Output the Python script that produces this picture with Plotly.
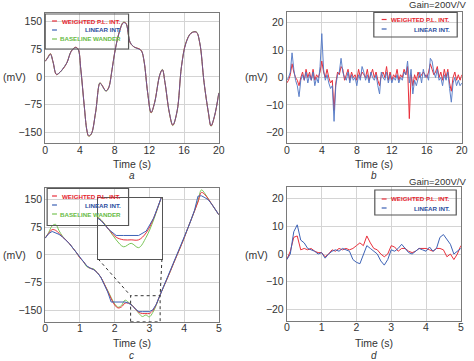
import plotly.graph_objects as go

# ---------------- data ----------------
# Panel a: full 20 s record (three nearly identical curves)
t_a = [0, 0.3, 0.6, 0.9, 1.3, 1.7, 2.0, 2.5, 3.0, 3.5, 3.8, 4.1, 4.5, 4.8, 5.0, 5.3, 5.8, 6.3, 6.5, 7.0,
       7.3, 7.7, 8.0, 8.5, 9.0, 9.3, 9.8, 10.3, 10.8, 11.1, 11.4, 11.8, 12.2, 12.6, 13.2, 13.5, 13.8, 14.3,
       14.7, 15.2, 15.7, 16.2, 16.8, 17.4, 17.8, 18.3, 18.8, 19.1, 19.5, 20.0]
wander_a = [42, 53, 63, 40, 6, 12, 20, 38, 70, 80, 74, 20, -80, -145, -161, -156, -98, -16, -21, -39,
            -30, 20, 65, 119, 148, 145, 92, 80, 76, 70, 40, -43, -98, -70, 6, 20, -16, -98,
            -132, -93, 29, 92, 119, 122, 92, -16, -98, -134, -107, -43]
weighted_a = [42, 52, 62, 41, 6, 13, 20, 38, 69, 80, 75, 21, -79, -144, -160, -155, -97, -17, -21, -38,
              -30, 19, 65, 118, 147, 145, 92, 80, 76, 70, 41, -42, -97, -70, 5, 19, -16, -97,
              -131, -92, 28, 91, 118, 121, 92, -15, -97, -133, -107, -44]
linear_a = [42, 51, 61, 41, 7, 12, 21, 38, 69, 79, 74, 21, -79, -144, -159, -155, -97, -17, -22, -38,
            -31, 19, 64, 118, 146, 144, 93, 80, 75, 70, 41, -42, -96, -71, 5, 19, -15, -96,
            -130, -92, 28, 90, 118, 121, 93, -15, -96, -132, -106, -44]

# Panel b: error signals over 20 s (step 0.2 s)
t_b = [round(i * 0.2, 1) for i in range(101)]
linear_b = [-1, 0, 2, 9, 3, -1, -3, -7, -1, 1, -1, 2, -2, 1, -1, 2, -3, 0, -2, 4,
            16, 3, -1, 1, -2, -4, -3, -16, -3, 1, 2, 7, 2, 0, -1, 2, -2, 1, -1, 0,
            -3, 1, -1, 4, 2, -1, 1, -2, 2, 0, -1, 1, -3, -6, 2, 0, -1, 2, -2, 1,
            -2, 0, -1, 1, -2, 0, -1, 2, 1, 6, -2, 3, -6, -1, -3, 0, 2, -2, 3, 0,
            1, -1, 7, 6, 2, 0, 3, -1, 0, -3, 1, -1, 2, -4, -9, -2, 0, -3, -1, -3, -2]
weighted_b = [-2, -1, 1, 5, 2, 0, -1, -3, 0, 2, -1, 3, 0, 2, -1, 3, -1, 1, 0, 2,
              6, 2, 0, 3, 0, -2, -1, -12, -2, 2, 1, 4, 3, -1, 1, 3, -1, 2, 0, 1,
              -1, 3, 0, 2, 1, 0, 3, -1, 1, 3, 0, 2, -1, -3, 1, 2, 0, 4, -1, 2,
              -1, 1, 0, 3, -1, 1, 0, 3, 1, 4, -15, 1, -3, 1, -1, 2, 0, 1, 2, 1,
              0, 2, 5, 3, 1, 2, 4, 0, 2, -1, 3, 0, 3, -2, -5, 0, 2, -1, 1, -1, 1]

# Panel c: 5 s detail (step 0.1 s)
t_c = [round(i * 0.1, 1) for i in range(51)]
wander_c = [45, 60, 78, 82, 65, 50, 40, 30, 18, 6, -8, -18, -32, -36, -38, -48, -60, -78, -96, -115,
            -132, -141, -136, -122, -128, -135, -146, -158, -166, -162, -167, -155, -135, -110, -88, -67, -45, -22, 0, 22,
            45, 70, 94, 118, 145, 175, 165, 150, 136, 122, 108]
weighted_c = [45, 58, 68, 66, 58, 48, 40, 30, 18, 6, -8, -18, -30, -36, -40, -48, -60, -78, -98, -118,
              -135, -143, -140, -130, -130, -136, -146, -155, -158, -158, -158, -150, -133, -110, -88, -67, -45, -22, 0, 22,
              45, 70, 94, 118, 142, 168, 162, 150, 136, 122, 108]
linear_c = [45, 57, 63, 60, 55, 48, 40, 30, 18, 6, -8, -18, -30, -36, -40, -48, -60, -80, -100, -127,
            -127, -127, -127, -127, -130, -136, -146, -153, -153, -153, -153, -148, -133, -110, -88, -67, -45, -22, 0, 22,
            45, 70, 94, 120, 158, 159, 154, 148, 136, 122, 108]

# Panel d: error signals over 5 s (step 0.1 s)
t_d = [round(i * 0.1, 1) for i in range(51)]
linear_d = [-2, 0, 8, 10.5, 5, 4, 2, 1.5, 1, 0, 0.5, -1.5, 0, 1, 1.5, 1, 2, 1.5, 1, -2,
            -3, -3.5, 0, 3, 2, 1, 0, -2.5, -4, -2, 1.5, 1, 2, 3.5, 2, 0.5, 0, 1, 2, 1.5,
            1, 2.5, 1, 2, 6, 7, 5, 3.5, 0, 1, 2]
weighted_d = [-2, 1, 6, 6.5, 1.5, 2, 1.5, 2, 1, 0.5, 0.5, -1, 0, 1.5, 1, 2, 1.5, 2, 1.5, 2,
              3, 4, 3, 6.5, 4, 2, 1.5, 0, -1, 0, 3, 2.5, 1, 2, 2, 1, 0.5, 1, 2, 2,
              2, 1.5, 1, 2, 2, 1.5, -1, 0, -2, 0, 3]

ticks_20 = [0, 4, 8, 12, 16, 20]
ticks_5 = [0, 1, 2, 3, 4, 5]
ticks_mv_big = [-150, -75, 0, 75, 150]
ticks_mv_small = [-20, -10, 0, 10, 20]
legend_names = ["WEIGHTED P.L. INT.", "LINEAR INT.", "BASELINE WANDER"]
gain_text = "Gain=200V/V"
zoom_window = (2.46, 3.31, -180, -110)

# ---------------- style ----------------
W, H = 474, 361
RED, BLUE, GREEN = "#e8303c", "#3d62b5", "#78c456"
RED_T, BLUE_T, GREEN_T = "#e41e2b", "#2c4e9e", "#68bb45"
FONT = "Liberation Sans, Arial, sans-serif"
TXT = "#333333"
FRAME = "#7a7a7a"
GRID = "#d4d4d4"
TICK_SIZE = 10.5


def px(x):
    return x / W


def py(y):
    return 1 - y / H


fig = go.Figure()

# subplot definitions: (xdomain px, ydomain px, xrange, yrange, xticks, yticks)
panels = {
    1: ((43, 220), (13.3, 143.3), [0, 20], [-180, 172], ticks_20, ticks_mv_big),
    2: ((289.3, 467.7), (11.7, 143.3), [0, 20], [-24, 24], ticks_20, ticks_mv_small),
    3: ((43, 220), (188, 321.7), [0, 5], [-180, 180], ticks_5, ticks_mv_big),
    4: ((289.3, 466.7), (187.3, 320.7), [0, 5], [-24, 24], ticks_5, ticks_mv_small),
}

layout_axes = {}
for i, (xd, yd, xr, yr, xt, yt) in panels.items():
    xs = "" if i == 1 else str(i)
    layout_axes["xaxis" + xs] = dict(
        domain=[px(xd[0]), px(xd[1])], range=xr, anchor="y" + xs,
        tickvals=xt, ticks="", showline=True, mirror=True, linecolor=FRAME, linewidth=1,
        showgrid=True, gridcolor=GRID, gridwidth=1, zeroline=False, ticklabeloverflow="allow",
        ticklabelstandoff=-3, tickfont=dict(family=FONT, size=TICK_SIZE, color=TXT))
    layout_axes["yaxis" + xs] = dict(
        domain=[py(yd[1]), py(yd[0])], range=yr, anchor="x" + xs,
        tickvals=yt, ticks="", showline=True, mirror=True, linecolor=FRAME, linewidth=1,
        showgrid=True, gridcolor=GRID, gridwidth=1, zeroline=False, ticklabeloverflow="allow",
        tickfont=dict(family=FONT, size=TICK_SIZE, color=TXT))

# inset axes (magnified window of panel c)
inset_px = (97, 162, 198, 259)
layout_axes["xaxis5"] = dict(domain=[px(inset_px[0]), px(inset_px[1])], range=[zoom_window[0], zoom_window[1]],
                             anchor="y5", showline=True, mirror=True, linecolor="#555", linewidth=1,
                             showgrid=False, zeroline=False, showticklabels=False, ticks="")
layout_axes["yaxis5"] = dict(domain=[py(inset_px[3]), py(inset_px[2])], range=[zoom_window[2], zoom_window[3]],
                             anchor="x5", showline=True, mirror=True, linecolor="#555", linewidth=1,
                             showgrid=False, zeroline=False, showticklabels=False, ticks="")


def line(x, y, color, ax, width=1.0, shape="linear", opacity=1.0):
    xs = "" if ax == 1 else str(ax)
    fig.add_trace(go.Scatter(x=x, y=y, mode="lines", line=dict(color=color, width=width, shape=shape),
                             opacity=opacity, xaxis="x" + xs, yaxis="y" + xs, showlegend=False,
                             hoverinfo="skip"))


# panel a
line(t_a, wander_a, GREEN, 1, shape="spline")
line(t_a, weighted_a, RED, 1, shape="spline")
line(t_a, linear_a, BLUE, 1, shape="spline", opacity=0.7)
# panel b
line(t_b, weighted_b, RED, 2)
line(t_b, linear_b, "#4d74c4", 2, opacity=0.9)
# panel c
line(t_c, wander_c, GREEN, 3, shape="spline")
line(t_c, weighted_c, RED, 3, shape="spline")
line(t_c, linear_c, BLUE, 3)
# inset
line(t_c, wander_c, GREEN, 5, shape="spline")
line(t_c, weighted_c, RED, 5, shape="spline")
line(t_c, linear_c, BLUE, 5)
# panel d
line(t_d, weighted_d, RED, 4)
line(t_d, linear_d, BLUE, 4)

shapes = []
annotations = []

# dotted zoom window on panel c
shapes.append(dict(type="rect", xref="x3", yref="y3", x0=zoom_window[0], x1=zoom_window[1],
                   y0=zoom_window[2], y1=zoom_window[3], line=dict(color="#333", width=1, dash="dot"),
                   layer="above"))


# connecting lines in paper coordinates from panel c data coords
def c_to_paper(xv, yv):
    xd, yd, xr, yr = panels[3][0], panels[3][1], panels[3][2], panels[3][3]
    xp = xd[0] + (xv - xr[0]) / (xr[1] - xr[0]) * (xd[1] - xd[0])
    ypx = yd[1] - (yv - yr[0]) / (yr[1] - yr[0]) * (yd[1] - yd[0])
    return px(xp), py(ypx)


tlx, tly = c_to_paper(zoom_window[0], zoom_window[3])
trx, try_ = c_to_paper(zoom_window[1], zoom_window[3])
shapes.append(dict(type="line", xref="paper", yref="paper", x0=px(inset_px[0]), y0=py(inset_px[3]),
                   x1=tlx, y1=tly, line=dict(color="#333", width=1, dash="dot")))
shapes.append(dict(type="line", xref="paper", yref="paper", x0=px(inset_px[1]), y0=py(inset_px[3]),
                   x1=trx, y1=try_, line=dict(color="#333", width=1, dash="dot")))


# legends (drawn manually for coloured text)
def legend(box, rows, names, colors, tcolors, dash_x, text_right):
    shapes.append(dict(type="rect", xref="paper", yref="paper", x0=px(box[0]), x1=px(box[1]),
                       y0=py(box[3]), y1=py(box[2]), line=dict(color="#555", width=1.2),
                       fillcolor="rgba(0,0,0,0)", layer="above"))
    for r, n, c, tc in zip(rows, names, colors, tcolors):
        shapes.append(dict(type="line", xref="paper", yref="paper", x0=px(dash_x[0]), x1=px(dash_x[1]),
                           y0=py(r), y1=py(r), line=dict(color=c, width=1.2), layer="above"))
        annotations.append(dict(x=px(text_right), y=py(r), xref="paper", yref="paper", xanchor="right",
                                yanchor="middle", showarrow=False, text="<b>%s</b>" % n,
                                font=dict(family="Liberation Sans, Arial, sans-serif", size=6.2, color=tc)))


legend((43, 128, 14, 49), (21, 30, 39), legend_names, (RED, BLUE, GREEN), (RED_T, BLUE_T, GREEN_T), (50, 55), 122)
legend((45, 128, 188.5, 225.5), (196, 205, 214), legend_names, (RED, BLUE, GREEN), (RED_T, BLUE_T, GREEN_T), (50, 55), 122)
legend((378, 463, 12.5, 37), (19.5, 29), legend_names[:2], (RED, BLUE), (RED_T, BLUE_T), (386, 391), 458)
legend((379, 462, 190, 215), (199, 208), legend_names[:2], (RED, BLUE), (RED_T, BLUE_T), (386, 391), 458)


def text(x, y, s, size=10.5, italic=False, anchor="center"):
    annotations.append(dict(x=px(x), y=py(y), xref="paper", yref="paper", xanchor=anchor, yanchor="middle",
                            showarrow=False, text=("<i>%s</i>" % s) if italic else s,
                            font=dict(family=FONT, size=size, color=TXT)))


for (cx, ty, ly, lab) in [(131, 163.5, 175.5, "a"), (378, 163.5, 175.5, "b"), (131, 342.5, 355, "c"), (378, 342.5, 355, "d")]:
    text(cx, ty, "Time (s)")
    text(cx, ly, lab, size=10, italic=True)

for (cx, cy) in [(11.5, 77), (258, 77), (11.5, 255), (258, 255)]:
    text(cx, cy, "(mV)", size=10.5)

text(474.5, 5, gain_text, size=9.5, anchor="right")
text(474.5, 181, gain_text, size=9.5, anchor="right")

fig.update_layout(width=W, height=H, margin=dict(l=0, r=0, t=0, b=0), paper_bgcolor="white",
                  plot_bgcolor="white", showlegend=False, shapes=shapes, annotations=annotations,
                  **layout_axes)

fig.write_html("out.html", config={"displayModeBar": False},
               post_script="document.body.style.margin='0px';document.body.style.overflow='hidden';")
